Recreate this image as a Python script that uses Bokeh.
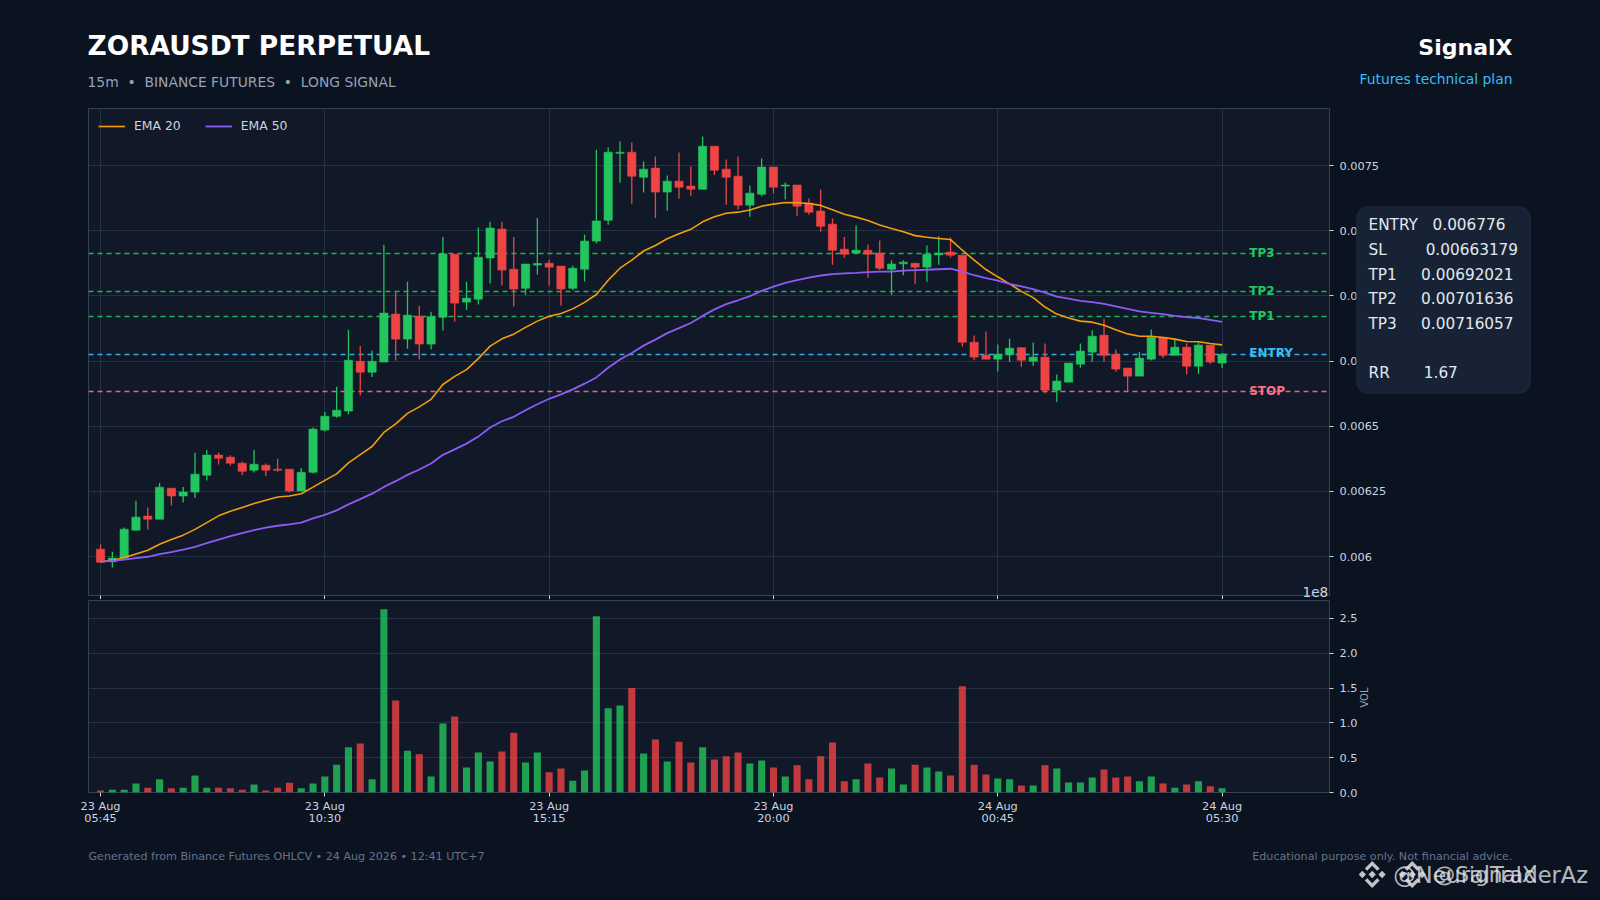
import math
from bokeh.embed import file_html
from bokeh.resources import INLINE
from bokeh.plotting import figure
from bokeh.layouts import column
from bokeh.models import (Range1d, FixedTicker, Label, BoxAnnotation, PolyAnnotation,
                          ColumnDataSource, Legend, LegendItem)
from bokeh.core.properties import value

open_ = [0.006028,0.005980,0.005994,0.006101,0.006155,0.006143,0.006262,0.006232,0.006247,0.006312,0.006389,0.006381,
0.006358,0.006331,0.006350,0.006335,0.006335,0.006251,0.006323,0.006485,0.006538,0.006558,0.006749,0.006707,
0.006746,0.006930,0.006834,0.006922,0.006815,0.006918,0.007160,0.006976,0.006987,0.007145,0.007256,0.007102,
0.007029,0.007118,0.007125,0.007114,0.007029,0.007102,0.007210,0.007290,0.007547,0.007551,0.007455,0.007490,
0.007398,0.007440,0.007421,0.007409,0.007574,0.007486,0.007459,0.007348,0.007390,0.007494,0.007421,0.007425,
0.007356,0.007325,0.007275,0.007179,0.007164,0.007175,0.007164,0.007102,0.007123,0.007125,0.007110,0.007157,
0.007168,0.007156,0.006822,0.006772,0.006757,0.006774,0.006801,0.006749,0.006765,0.006638,0.006669,0.006738,
0.006784,0.006849,0.006776,0.006723,0.006692,0.006757,0.006841,0.006772,0.006803,0.006730,0.006811,0.006742]
high = [0.006046,0.006018,0.006111,0.006214,0.006188,0.006283,0.006262,0.006267,0.006398,0.006409,0.006399,0.006388,
0.006364,0.006409,0.006357,0.006375,0.006335,0.006340,0.006495,0.006554,0.006651,0.006870,0.006808,0.006789,
0.007196,0.007014,0.007054,0.006962,0.006939,0.007226,0.007160,0.007054,0.007262,0.007284,0.007284,0.007226,
0.007122,0.007299,0.007138,0.007114,0.007115,0.007234,0.007560,0.007569,0.007592,0.007588,0.007515,0.007535,
0.007462,0.007550,0.007496,0.007611,0.007574,0.007523,0.007535,0.007423,0.007527,0.007494,0.007435,0.007425,
0.007373,0.007408,0.007297,0.007226,0.007270,0.007197,0.007212,0.007136,0.007137,0.007125,0.007193,0.007229,
0.007224,0.007156,0.006848,0.006863,0.006813,0.006836,0.006801,0.006821,0.006817,0.006698,0.006742,0.006817,
0.006868,0.006912,0.006794,0.006723,0.006785,0.006871,0.006841,0.006833,0.006817,0.006821,0.006811,0.006781]
low = [0.005978,0.005958,0.005991,0.006101,0.006104,0.006143,0.006196,0.006207,0.006224,0.006292,0.006353,0.006349,
0.006313,0.006322,0.006309,0.006325,0.006245,0.006251,0.006318,0.006480,0.006532,0.006545,0.006618,0.006689,
0.006746,0.006752,0.006797,0.006756,0.006794,0.006867,0.006902,0.006946,0.006967,0.007047,0.007040,0.006959,
0.007004,0.007082,0.007040,0.006963,0.007021,0.007055,0.007201,0.007273,0.007434,0.007353,0.007396,0.007299,
0.007326,0.007372,0.007384,0.007408,0.007464,0.007349,0.007331,0.007303,0.007382,0.007393,0.007370,0.007307,
0.007311,0.007246,0.007119,0.007146,0.007164,0.007069,0.007099,0.007004,0.007079,0.007046,0.007054,0.007119,
0.007147,0.006806,0.006753,0.006757,0.006710,0.006747,0.006728,0.006731,0.006625,0.006593,0.006669,0.006724,
0.006747,0.006747,0.006709,0.006636,0.006692,0.006752,0.006762,0.006772,0.006698,0.006701,0.006739,0.006724]
close = [0.005978,0.005994,0.006105,0.006151,0.006143,0.006266,0.006232,0.006247,0.006316,0.006389,0.006377,0.006358,
0.006327,0.006354,0.006331,0.006331,0.006251,0.006323,0.006489,0.006538,0.006561,0.006753,0.006707,0.006749,
0.006934,0.006834,0.006926,0.006815,0.006920,0.007161,0.006972,0.006991,0.007148,0.007260,0.007099,0.007026,
0.007122,0.007124,0.007110,0.007026,0.007106,0.007210,0.007287,0.007551,0.007551,0.007459,0.007486,0.007398,
0.007440,0.007417,0.007409,0.007574,0.007482,0.007455,0.007348,0.007394,0.007494,0.007417,0.007425,0.007344,
0.007321,0.007267,0.007175,0.007160,0.007175,0.007160,0.007106,0.007122,0.007129,0.007110,0.007160,0.007164,
0.007156,0.006822,0.006765,0.006757,0.006776,0.006799,0.006753,0.006765,0.006638,0.006673,0.006742,0.006788,
0.006845,0.006772,0.006719,0.006692,0.006761,0.006841,0.006772,0.006803,0.006730,0.006811,0.006746,0.006776]
ema20 = [0.005980,0.005985,0.005996,0.006010,0.006024,0.006047,0.006065,0.006082,0.006104,0.006130,0.006156,0.006174,
0.006188,0.006203,0.006216,0.006228,0.006232,0.006241,0.006266,0.006292,0.006317,0.006359,0.006391,0.006422,
0.006476,0.006509,0.006549,0.006574,0.006603,0.006660,0.006691,0.006717,0.006759,0.006807,0.006835,0.006853,
0.006879,0.006903,0.006922,0.006932,0.006950,0.006975,0.007005,0.007060,0.007106,0.007137,0.007172,0.007193,
0.007219,0.007238,0.007255,0.007284,0.007303,0.007317,0.007321,0.007329,0.007344,0.007352,0.007358,0.007357,
0.007354,0.007347,0.007330,0.007313,0.007302,0.007289,0.007272,0.007258,0.007246,0.007231,0.007225,0.007220,
0.007216,0.007175,0.007137,0.007101,0.007073,0.007046,0.007017,0.006993,0.006957,0.006930,0.006915,0.006903,
0.006899,0.006887,0.006870,0.006854,0.006845,0.006845,0.006840,0.006834,0.006825,0.006824,0.006817,0.006812]
ema50 = [0.005980,0.005983,0.005988,0.005994,0.005999,0.006009,0.006017,0.006026,0.006037,0.006051,0.006065,0.006078,
0.006090,0.006101,0.006111,0.006118,0.006123,0.006130,0.006146,0.006160,0.006177,0.006200,0.006220,0.006241,
0.006267,0.006289,0.006313,0.006334,0.006357,0.006390,0.006411,0.006433,0.006460,0.006495,0.006519,0.006536,
0.006561,0.006584,0.006605,0.006622,0.006641,0.006663,0.006687,0.006724,0.006756,0.006781,0.006809,0.006832,
0.006857,0.006876,0.006896,0.006923,0.006948,0.006968,0.006983,0.006999,0.007019,0.007035,0.007050,0.007060,
0.007070,0.007078,0.007083,0.007086,0.007088,0.007091,0.007093,0.007093,0.007097,0.007099,0.007100,0.007102,
0.007104,0.007093,0.007079,0.007068,0.007058,0.007046,0.007036,0.007026,0.007012,0.006997,0.006989,0.006981,
0.006976,0.006969,0.006960,0.006950,0.006940,0.006935,0.006930,0.006923,0.006918,0.006915,0.006908,0.006900]
volume_1e8 = [.03,.04,.04,.13,.07,.19,.06,.07,.245,.07,.07,.06,.04,.115,.03,.07,.14,.06,.13,.23,.40,.65,.705,.19,
2.633,1.32,.60,.55,.23,.99,1.09,.36,.575,.445,.59,.86,.43,.575,.29,.345,.17,.315,2.53,1.21,1.25,1.50,.56,.76,
.445,.73,.43,.65,.475,.52,.575,.415,.46,.36,.23,.39,.19,.52,.72,.16,.19,.415,.215,.345,.115,.40,.36,.30,
.245,1.525,.40,.26,.20,.19,.10,.10,.39,.345,.145,.145,.215,.33,.215,.23,.16,.23,.13,.07,.115,.16,.09,.06]
assert all(len(a) == 96 for a in (open_, high, low, close, ema20, ema50, volume_1e8))

x_ticks = [0, 19, 38, 57, 76, 95]
x_labels = ["23 Aug\n05:45", "23 Aug\n10:30", "23 Aug\n15:15", "23 Aug\n20:00", "24 Aug\n00:45", "24 Aug\n05:30"]
price_ticks = [0.006, 0.00625, 0.0065, 0.00675, 0.007, 0.00725, 0.0075]
price_labels = ["0.006", "0.00625", "0.0065", "0.00675", "0.007", "0.00725", "0.0075"]
vol_ticks = [0, 0.5, 1, 1.5, 2, 2.5]
vol_labels = ["0.0", "0.5", "1.0", "1.5", "2.0", "2.5"]
level_names = ["TP3", "TP2", "TP1", "ENTRY", "STOP"]
level_values = [0.00716057, 0.00701636, 0.00692021, 0.006776, 0.00663179]
level_colors = ["#22c55e", "#22c55e", "#22c55e", "#38bdf8", "#fb7185"]
panel_lines = ["ENTRY\u00a0\u00a0\u00a00.006776", "SL\u00a0\u00a0\u00a0\u00a0\u00a0\u00a0\u00a0\u00a00.00663179",
               "TP1\u00a0\u00a0\u00a0\u00a0\u00a00.00692021", "TP2\u00a0\u00a0\u00a0\u00a0\u00a00.00701636",
               "TP3\u00a0\u00a0\u00a0\u00a0\u00a00.00716057", "RR\u00a0\u00a0\u00a0\u00a0\u00a0\u00a0\u00a01.67"]

BG, PANEL, GRID, EDGE, TICK = "#0b1220", "#111827", "#263244", "#334155", "#cbd5e1"
GREEN, RED = "#22c55e", "#ef4444"
W, H1, H2 = 1600, 598, 302
FL, FR, FT1, FB1, FT2, FB2 = 88, 1329, 108, 595, 599, 791  # frame edges in page pixels
FONT = "DejaVu Sans"
colors = [GREEN if c >= o else RED for o, c in zip(open_, close)]
idx = list(range(len(open_)))
xr = (-1.02, 104.1)


def base(height, top, bottom, yr):
    p = figure(width=W, height=height, output_backend="svg", toolbar_location=None,
               x_range=Range1d(*xr), y_range=Range1d(*yr), y_axis_location="right",
               background_fill_color=PANEL, border_fill_color=BG, outline_line_color=EDGE,
               min_border_left=FL, min_border_right=W - FR,
               min_border_top=top, min_border_bottom=bottom)
    p.frame_width = FR - FL
    for ax in (p.xaxis[0], p.yaxis[0]):
        ax.axis_line_color = None
        ax.major_tick_line_color = TICK
        ax.major_tick_out = 4
        ax.major_tick_in = 0
        ax.minor_tick_line_color = None
        ax.major_label_text_color = TICK
        ax.major_label_text_font = FONT
        ax.major_label_text_font_size = "11.3px"
    p.xaxis[0].ticker = FixedTicker(ticks=x_ticks)
    p.xgrid.ticker = FixedTicker(ticks=x_ticks)
    p.grid.grid_line_color = GRID
    p.grid.grid_line_width = 1
    return p


p1 = base(H1, FT1, H1 - FB1, (0.0058504, 0.0077187))
p1.frame_height = FB1 - FT1
p1.xaxis[0].major_label_overrides = {t: "" for t in x_ticks}
p1.xaxis[0].major_label_standoff = 0
p1.yaxis[0].ticker = FixedTicker(ticks=price_ticks)
p1.ygrid.ticker = FixedTicker(ticks=price_ticks)
p1.yaxis[0].major_label_overrides = dict(zip(price_ticks, price_labels))
p1.yaxis[0].major_label_standoff = 6

src = ColumnDataSource(dict(x=idx, o=open_, h=high, l=low, c=close, col=colors, vol=volume_1e8,
                            top=[max(a, b) for a, b in zip(open_, close)],
                            bot=[min(a, b) for a, b in zip(open_, close)], e20=ema20, e50=ema50))
lv = ColumnDataSource(dict(y=level_values, col=level_colors, name=level_names,
                           x=[97.3] * len(level_values)))
p1.hspan(y="y", source=lv, line_color="col", line_width=1.3, line_dash="5 4", line_alpha=0.9)
p1.segment("x", "h", "x", "l", source=src, color="col", line_width=1.3)
p1.vbar("x", 0.7, "top", "bot", source=src, fill_color="col", line_color="col", line_width=0.6)
r20 = p1.line("x", "e20", source=src, color="#f59e0b", line_width=1.6)
r50 = p1.line("x", "e50", source=src, color="#8b5cf6", line_width=1.8)
p1.text("x", "y", text="name", source=lv, text_color="col", text_font=value(FONT), text_font_style="bold",
        text_font_size="12px", text_baseline="middle", text_align="left", y_offset=-1)
leg = Legend(items=[LegendItem(label="EMA 20", renderers=[r20]), LegendItem(label="EMA 50", renderers=[r50])],
             location="top_left", orientation="horizontal", background_fill_alpha=0, border_line_color=None,
             label_text_color=TICK, label_text_font=FONT, label_text_font_size="12.4px",
             glyph_width=27, glyph_height=10, spacing=24, margin=10, padding=6, label_standoff=9)
p1.add_layout(leg, "center")

p2 = base(H2, FT2 - H1, H1 + H2 - FB2, (0, 2.758))
p2.frame_height = FB2 - FT2
p2.xgrid.visible = False
p2.xaxis[0].major_label_overrides = dict(zip(x_ticks, x_labels))
p2.xaxis[0].major_label_standoff = 3
p2.xaxis[0].major_label_text_line_height = 0.95
p2.yaxis[0].ticker = FixedTicker(ticks=vol_ticks)
p2.ygrid.ticker = FixedTicker(ticks=vol_ticks)
p2.yaxis[0].major_label_overrides = dict(zip(vol_ticks, vol_labels))
p2.yaxis[0].major_label_standoff = 6
p2.vbar("x", 0.6, "vol", 0, source=src, fill_color="col", line_color=None, fill_alpha=0.8)

# transparent full-page sheet on top: its frame is the whole page, so its annotations are not clipped
p3 = figure(width=W, height=H1 + H2, output_backend="svg", toolbar_location=None,
            x_range=Range1d(0, W), y_range=Range1d(H1 + H2, 0), x_axis_location=None, y_axis_location=None,
            background_fill_color=None, border_fill_color=None, outline_line_color=None,
            min_border=0, styles={"position": "absolute", "left": "0px", "top": "0px", "z-index": "5"})
p3.grid.visible = False


def T(text, x, y, size, color, style="normal", align="left", alpha=1.0, angle=0.0):
    """x,y = page pixels; y is the middle of the capitals."""
    p3.add_layout(Label(x=x, y=y, x_units="canvas", y_units="canvas", text=text, text_color=color,
                        text_alpha=alpha, text_font=FONT, text_font_size=f"{size}px", text_font_style=style,
                        text_align=align, text_baseline="alphabetic", angle=angle))


T("ZORAUSDT PERPETUAL", 87, 44.5, 26.45, "#ffffff", "bold")
T("15m\u00a0\u00a0•\u00a0\u00a0BINANCE FUTURES\u00a0\u00a0•\u00a0\u00a0LONG SIGNAL", 87, 81, 13.86, "#94a3b8")
T("SignalX", 1512, 47, 22, "#ffffff", "bold", "right")
T("Futures technical plan", 1512, 78.5, 13.87, "#38bdf8", "normal", "right")
T("1e8", 1302, 591.7, 13.6, TICK)
T("VOL", 1364, 697, 10, "#94a3b8", "normal", "center", 1.0, math.pi / 2)

p3.add_layout(BoxAnnotation(left=1356, right=1530, top=206, bottom=393,
                            left_units="canvas", right_units="canvas", top_units="canvas", bottom_units="canvas",
                            fill_color="#172335", fill_alpha=1.0, line_color="#2c3a4f", line_width=1.2,
                            border_radius=12))
for line, yy in zip(panel_lines, [224, 249.5, 274, 298.5, 323, 372]):
    T(line, 1368, yy, 15.3, "#e2e8f0")

T("Generated from Binance Futures OHLCV • 24 Aug 2026 • 12:41 UTC+7", 88, 856, 11.14, "#64748b")
T("Educational purpose only. Not financial advice.", 1512, 856, 11.14, "#64748b", "normal", "right")

LOGO = [[(0, .27), (.27, 0), (0, -.27), (-.27, 0)],
        [(-.73, .27), (-.46, 0), (-.73, -.27), (-1, 0)],
        [(.73, .27), (1, 0), (.73, -.27), (.46, 0)],
        [(0, 1), (.55, .45), (.37, .27), (0, .64), (-.37, .27), (-.55, .45)],
        [(0, -1), (.55, -.45), (.37, -.27), (0, -.64), (-.37, -.27), (-.55, -.45)]]
for cx in (1371.7, 1411.7):
    for poly in LOGO:
        p3.add_layout(PolyAnnotation(xs=[cx + 13.5 * a for a, b in poly],
                                     ys=[874 - 13.5 * b for a, b in poly],
                                     xs_units="canvas", ys_units="canvas",
                                     fill_color="#e2e5e9", fill_alpha=0.85, line_color=None))
T("@NeuralTraderAz", 1392.7, 874, 22.5, "#e2e5e9", alpha=0.8)
T("@SignalX", 1433, 874, 21.7, "#e2e5e9", alpha=0.8)

page = column(p1, p2, spacing=0)
html = file_html([page, p3], INLINE, title="ZORAUSDT PERPETUAL")
html = html.replace("<head>", f"<head><style>html,body{{background:{BG};overflow:hidden}}</style>", 1)
open("out.html", "w").write(html)
